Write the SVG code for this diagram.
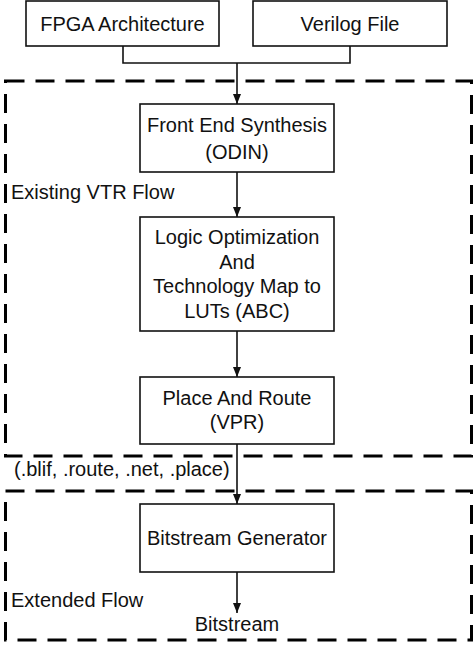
<svg xmlns="http://www.w3.org/2000/svg" width="474" height="646" viewBox="0 0 474 646">
<style>
.box{fill:#fff;stroke:#111;stroke-width:1.6}
.t{font-family:"Liberation Sans",Arial,sans-serif;font-size:20px;fill:#111;text-anchor:middle}
.l{font-family:"Liberation Sans",Arial,sans-serif;font-size:20px;fill:#111}
.dash{fill:none;stroke:#000;stroke-width:3;stroke-dasharray:19 11}
.c{fill:none;stroke:#111;stroke-width:1.6}
</style>
<defs>
<marker id="ah" markerWidth="10" markerHeight="10" viewBox="0 0 10 10" refX="10" refY="5" orient="auto" markerUnits="userSpaceOnUse">
<path d="M0,1 L10,5 L0,9 Z" fill="#111"/>
</marker>
</defs>
<rect width="474" height="646" fill="#fff"/>
<g id="regions">
<rect class="dash" x="5.5" y="81" width="466" height="375"/>
<rect class="dash" x="5.5" y="491" width="466" height="149"/>
</g>
<g id="connectors">
<path class="c" d="M123,46 V63 H350 V46"/>
<path class="c" d="M237,63 V104" marker-end="url(#ah)"/>
<path class="c" d="M237,172 V217" marker-end="url(#ah)"/>
<path class="c" d="M237,331 V377" marker-end="url(#ah)"/>
<path class="c" d="M237,444 V504" marker-end="url(#ah)"/>
<path class="c" d="M237,572 V613" marker-end="url(#ah)"/>
</g>
<g id="fpga">
<rect class="box" x="26" y="1" width="193" height="45"/>
<text class="t" x="122.5" y="31">FPGA Architecture</text>
</g>
<g id="verilog">
<rect class="box" x="253" y="1" width="194" height="45"/>
<text class="t" x="350" y="31">Verilog File</text>
</g>
<g id="odin">
<rect class="box" x="140" y="104" width="194" height="68"/>
<text class="t" x="237" y="132">Front End Synthesis</text>
<text class="t" x="237" y="159">(ODIN)</text>
</g>
<g id="abc">
<rect class="box" x="140" y="217" width="194" height="114"/>
<text class="t" x="237" y="244">Logic Optimization</text>
<text class="t" x="237" y="268.5">And</text>
<text class="t" x="237" y="293">Technology Map to</text>
<text class="t" x="237" y="317.5">LUTs (ABC)</text>
</g>
<g id="vpr">
<rect class="box" x="140" y="377" width="194" height="67"/>
<text class="t" x="237" y="405">Place And Route</text>
<text class="t" x="237" y="429">(VPR)</text>
</g>
<g id="bitgen">
<rect class="box" x="140" y="504" width="194" height="68"/>
<text class="t" x="237" y="545">Bitstream Generator</text>
</g>
<g id="labels">
<text class="l" x="11" y="199">Existing VTR Flow</text>
<text class="l" x="14" y="476">(.blif, .route, .net, .place)</text>
<text class="l" x="11" y="607">Extended Flow</text>
<text class="t" x="237" y="631">Bitstream</text>
</g>
</svg>
